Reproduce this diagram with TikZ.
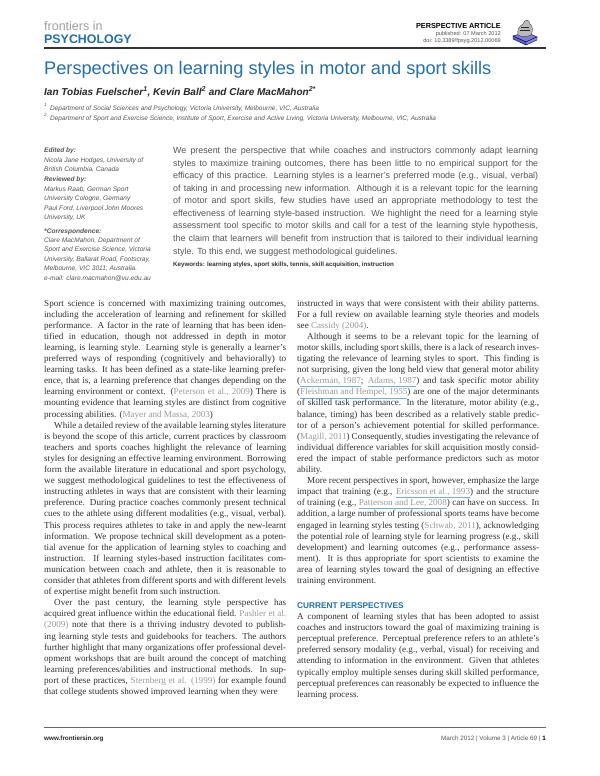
\documentclass[tikz,border=0pt]{standalone}
\usepackage{fontspec}
\setmainfont{Liberation Serif}
\setsansfont{Liberation Sans}
\definecolor{fblue}{HTML}{1F6FB5}
\definecolor{bodyc}{HTML}{303030}
\definecolor{sidec}{HTML}{555555}
\definecolor{citec}{HTML}{9A9A9A}
\definecolor{ulc}{HTML}{6AB0E6}
\newcommand\citeg[1]{\textcolor{citec}{#1}}
\newcommand\citeu[1]{{\color{ulc}\underline{\textcolor{citec}{#1}}}}
\newcommand\justl[4]{\node[body] (#1) at (#2,#3) {\makebox[242bp][s]{#4}};}
\newcommand\lastl[4]{\node[body] (#1) at (#2,#3) {#4};}
\newcommand\absl[3]{\node[abs] (#1) at (173,#2) {\makebox[365bp][s]{#3}};}
\newcommand\sideln[4]{\node[side] (#1) at (44,#2) {\ifx1#3\bfseries\fi #4};}
\tikzset{
 body/.style={anchor=base west,inner sep=0pt,text=bodyc,font=\fontsize{9.1bp}{11bp}\selectfont},
 abs/.style={anchor=base west,inner sep=0pt,text=sidec,font=\sffamily\fontsize{8.9bp}{11bp}\selectfont},
 side/.style={anchor=base west,inner sep=0pt,text=sidec,font=\sffamily\itshape\fontsize{6.6bp}{8bp}\selectfont},
}
\begin{document}
\begin{tikzpicture}[x=1bp,y=-1bp]
\useasboundingbox (0,0) rectangle (600,776);
\fill[white] (0,0) rectangle (600,776);
% header
\node[anchor=base west,inner sep=0pt,text=gray!75,font=\sffamily\fontsize{12.5bp}{12bp}\selectfont] (jr1) at (44,31) {frontiers in};
\node[anchor=base west,inner sep=0pt,text=fblue,font=\sffamily\bfseries\fontsize{12.4bp}{12bp}\selectfont] (jr2) at (44,44) {PSYCHOLOGY};
\node[anchor=base east,inner sep=0pt,text=black,font=\sffamily\bfseries\fontsize{7.3bp}{8bp}\selectfont] (pa) at (501,29) {PERSPECTIVE ARTICLE};
\node[anchor=base east,inner sep=0pt,text=sidec,font=\sffamily\fontsize{5.6bp}{6bp}\selectfont] (pub) at (501,35.8) {published: 07 March 2012};
\node[anchor=base east,inner sep=0pt,text=sidec,font=\sffamily\fontsize{5.6bp}{6bp}\selectfont] (doi) at (501,42.6) {doi: 10.3389/fpsyg.2012.00069};
% icon
\fill[blue!45!gray!70,draw=blue!40!black,line width=0.4bp] (513,36) -- (526,32) -- (537,37) -- (526,42) -- cycle;
\fill[blue!60!gray!80,draw=blue!40!black,line width=0.4bp] (513,36) -- (513,39) -- (526,45) -- (526,42) -- cycle;
\fill[blue!50!gray!60,draw=blue!40!black,line width=0.4bp] (526,42) -- (526,45) -- (537,40) -- (537,37) -- cycle;
\fill[gray!55,draw=gray!30!black,line width=0.3bp] (518,35) .. controls (517,28) and (520,26) .. (523,24) .. controls (524,19) and (530,19) .. (530,24) .. controls (533,26) and (533,31) .. (531,35) .. controls (527,37) and (521,37) .. (518,35) -- cycle;
\draw[gray!30!black,line width=0.3bp] (520,30) -- (530,30) (521,27) -- (529,27);
\draw[black!80,line width=1.2bp] (44,48) -- (546,48);
% title
\node[anchor=base west,inner sep=0pt,text=fblue,font=\sffamily\fontsize{18.2bp}{19bp}\selectfont] (title) at (44,75) {Perspectives on learning styles in motor and sport skills};
\node[anchor=base west,inner sep=0pt,text=black!85,font=\sffamily\bfseries\itshape\fontsize{10bp}{10bp}\selectfont] (auth) at (44,95) {Ian Tobias Fuelscher\textsuperscript{1}, Kevin Ball\textsuperscript{2} and Clare MacMahon\textsuperscript{2*}};
\node[side,font=\sffamily\itshape\fontsize{6.5bp}{7bp}\selectfont] (af1) at (44,110) {\textsuperscript{1}\, Department of Social Sciences and Psychology, Victoria University, Melbourne, VIC, Australia};
\node[side,font=\sffamily\itshape\fontsize{6.5bp}{7bp}\selectfont] (af2) at (44,120) {\textsuperscript{2}\, Department of Sport and Exercise Science, Institute of Sport, Exercise and Active Living, Victoria University, Melbourne, VIC, Australia};
% sidebar
\sideln{s1}{152}{1}{Edited by:}
\sideln{s2}{162}{0}{Nicola Jane Hodges, University of}
\sideln{s3}{171.5}{0}{British Columbia, Canada}
\sideln{s4}{181}{1}{Reviewed by:}
\sideln{s5}{191}{0}{Markus Raab, German Sport}
\sideln{s6}{200.5}{0}{University Cologne, Germany}
\sideln{s7}{210}{0}{Paul Ford, Liverpool John Moores}
\sideln{s8}{219.5}{0}{University, UK}
\sideln{s9}{233}{1}{*Correspondence:}
\sideln{s10}{242}{0}{Clare MacMahon, Department of}
\sideln{s11}{251.5}{0}{Sport and Exercise Science, Victoria}
\sideln{s12}{261}{0}{University, Ballarat Road, Footscray,}
\sideln{s13}{270.5}{0}{Melbourne, VIC 3011, Australia.}
\sideln{s14}{280}{0}{e-mail: clare.macmahon@vu.edu.au}
% abstract
\absl{a1}{153.5}{We present the perspective that while coaches and instructors commonly adapt learning}
\absl{a2}{166}{styles to maximize training outcomes, there has been little to no empirical support for the}
\absl{a3}{178.6}{efficacy of this practice. Learning styles is a learner’s preferred mode (e.g., visual, verbal)}
\absl{a4}{191.2}{of taking in and processing new information. Although it is a relevant topic for the learning}
\absl{a5}{203.7}{of motor and sport skills, few studies have used an appropriate methodology to test the}
\absl{a6}{216.3}{effectiveness of learning style-based instruction. We highlight the need for a learning style}
\absl{a7}{228.9}{assessment tool specific to motor skills and call for a test of the learning style hypothesis,}
\absl{a8}{241.4}{the claim that learners will benefit from instruction that is tailored to their individual learning}
\node[abs] (a9) at (173,254) {style. To this end, we suggest methodological guidelines.};
\node[abs,text=black!80,font=\sffamily\bfseries\fontsize{6.2bp}{7bp}\selectfont] (kw) at (173,266) {Keywords: learning styles, sport skills, tennis, skill acquisition, instruction};
% left column
\justl{l1}{44}{306}{Sport science is concerned with maximizing training outcomes,}
\justl{l2}{44}{317.1}{including the acceleration of learning and refinement for skilled}
\justl{l3}{44}{328.2}{performance. A factor in the rate of learning that has been iden-}
\justl{l4}{44}{339.3}{tified in education, though not addressed in depth in motor}
\justl{l5}{44}{350.4}{learning, is learning style. Learning style is generally a learner’s}
\justl{l6}{44}{361.5}{preferred ways of responding (cognitively and behaviorally) to}
\justl{l7}{44}{372.6}{learning tasks. It has been defined as a state-like learning prefer-}
\justl{l8}{44}{383.7}{ence, that is, a learning preference that changes depending on the}
\justl{l9}{44}{394.8}{learning environment or context. (\citeg{Peterson et al., 2009}) There is}
\justl{l10}{44}{405.9}{mounting evidence that learning styles are distinct from cognitive}
\lastl{l11}{44}{417}{processing abilities. (\citeg{Mayer and Massa, 2003})}
\justl{l12}{44}{428.1}{\hspace*{10bp}While a detailed review of the available learning styles literature}
\justl{l13}{44}{439.2}{is beyond the scope of this article, current practices by classroom}
\justl{l14}{44}{450.3}{teachers and sports coaches highlight the relevance of learning}
\justl{l15}{44}{461.4}{styles for designing an effective learning environment. Borrowing}
\justl{l16}{44}{472.5}{form the available literature in educational and sport psychology,}
\justl{l17}{44}{483.6}{we suggest methodological guidelines to test the effectiveness of}
\justl{l18}{44}{494.7}{instructing athletes in ways that are consistent with their learning}
\justl{l19}{44}{505.8}{preference. During practice coaches commonly present technical}
\justl{l20}{44}{516.9}{cues to the athlete using different modalities (e.g., visual, verbal).}
\justl{l21}{44}{528}{This process requires athletes to take in and apply the new-learnt}
\justl{l22}{44}{539.1}{information. We propose technical skill development as a poten-}
\justl{l23}{44}{550.2}{tial avenue for the application of learning styles to coaching and}
\justl{l24}{44}{561.3}{instruction. If learning styles-based instruction facilitates com-}
\justl{l25}{44}{572.4}{munication between coach and athlete, then it is reasonable to}
\justl{l26}{44}{583.5}{consider that athletes from different sports and with different levels}
\lastl{l27}{44}{594.6}{of expertise might benefit from such instruction.}
\justl{l28}{44}{605.7}{\hspace*{10bp}Over the past century, the learning style perspective has}
\justl{l29}{44}{616.8}{acquired great influence within the educational field. \citeg{Pashler et al.}}
\justl{l30}{44}{627.9}{\citeg{(2009)} note that there is a thriving industry devoted to publish-}
\justl{l31}{44}{639}{ing learning style tests and guidebooks for teachers. The authors}
\justl{l32}{44}{650.1}{further highlight that many organizations offer professional devel-}
\justl{l33}{44}{661.2}{opment workshops that are built around the concept of matching}
\justl{l34}{44}{672.3}{learning preferences/abilities and instructional methods. In sup-}
\justl{l35}{44}{683.4}{port of these practices, \citeg{Sternberg et al. (1999)} for example found}
\lastl{l36}{44}{694.5}{that college students showed improved learning when they were}
% right column
\justl{r1}{297}{306}{instructed in ways that were consistent with their ability patterns.}
\justl{r2}{297}{317.1}{For a full review on available learning style theories and models}
\lastl{r3}{297}{328.2}{see \citeg{Cassidy (2004)}.}
\justl{r4}{297}{339.3}{\hspace*{10bp}Although it seems to be a relevant topic for the learning of}
\justl{r5}{297}{350.4}{motor skills, including sport skills, there is a lack of research inves-}
\justl{r6}{297}{361.5}{tigating the relevance of learning styles to sport. This finding is}
\justl{r7}{297}{372.6}{not surprising, given the long held view that general motor ability}
\justl{r8}{297}{383.7}{(\citeu{Ackerman, 1987}; \citeu{Adams, 1987}) and task specific motor ability}
\justl{r9}{297}{394.8}{(\citeu{Fleishman and Hempel, 1955}) are one of the major determinants}
\justl{r10}{297}{405.9}{of skilled task performance. In the literature, motor ability (e.g.,}
\justl{r11}{297}{417}{balance, timing) has been described as a relatively stable predic-}
\justl{r12}{297}{428.1}{tor of a person’s achievement potential for skilled performance.}
\justl{r13}{297}{439.2}{(\citeg{Magill, 2011}) Consequently, studies investigating the relevance of}
\justl{r14}{297}{450.3}{individual difference variables for skill acquisition mostly consid-}
\justl{r15}{297}{461.4}{ered the impact of stable performance predictors such as motor}
\lastl{r16}{297}{472.5}{ability.}
\justl{r17}{297}{483.6}{\hspace*{10bp}More recent perspectives in sport, however, emphasize the large}
\justl{r18}{297}{494.7}{impact that training (e.g., \citeu{Ericsson et al., 1993}) and the structure}
\justl{r19}{297}{505.8}{of training (e.g., \citeu{Patterson and Lee, 2008}) can have on success. In}
\justl{r20}{297}{516.9}{addition, a large number of professional sports teams have become}
\justl{r21}{297}{528}{engaged in learning styles testing (\citeg{Schwab, 2011}), acknowledging}
\justl{r22}{297}{539.1}{the potential role of learning style for learning progress (e.g., skill}
\justl{r23}{297}{550.2}{development) and learning outcomes (e.g., performance assess-}
\justl{r24}{297}{561.3}{ment). It is thus appropriate for sport scientists to examine the}
\justl{r25}{297}{572.4}{area of learning styles toward the goal of designing an effective}
\lastl{r26}{297}{583.5}{training environment.}
\node[anchor=base west,inner sep=0pt,text=fblue,font=\sffamily\bfseries\fontsize{8.3bp}{9bp}\selectfont] (hd) at (297,608) {CURRENT PERSPECTIVES};
\justl{r28}{297}{619.5}{A component of learning styles that has been adopted to assist}
\justl{r29}{297}{630.6}{coaches and instructors toward the goal of maximizing training is}
\justl{r30}{297}{641.7}{perceptual preference. Perceptual preference refers to an athlete’s}
\justl{r31}{297}{652.8}{preferred sensory modality (e.g., verbal, visual) for receiving and}
\justl{r32}{297}{663.9}{attending to information in the environment. Given that athletes}
\justl{r33}{297}{675}{typically employ multiple senses during skill skilled performance,}
\justl{r34}{297}{686.1}{perceptual preferences can reasonably be expected to influence the}
\lastl{r35}{297}{697.2}{learning process.}
% footer
\draw[black!60,line width=0.9bp] (44,727) -- (546,727);
\node[anchor=base west,inner sep=0pt,text=black!85,font=\sffamily\bfseries\fontsize{6.3bp}{7bp}\selectfont] (www) at (44,740) {www.frontiersin.org};
\node[anchor=base east,inner sep=0pt,text=sidec,font=\sffamily\fontsize{6.3bp}{7bp}\selectfont] (pg) at (546,740) {March 2012 | Volume 3 | Article 69 | \textbf{\textcolor{black}{1}}};
\end{tikzpicture}
\end{document}
